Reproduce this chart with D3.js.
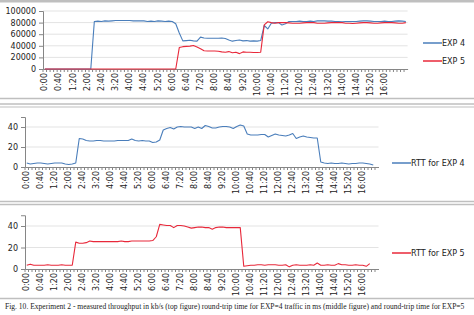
<!DOCTYPE html>
<html>
<head>
<meta charset="utf-8">
<script src="https://cdn.jsdelivr.net/npm/d3@7"></script>
<style>
  body { margin: 0; background: #fff; }
  svg { display: block; }
  .tick text { fill: #222; }
</style>
</head>
<body>
<svg id="chart" width="474" height="315"></svg>
<script>
// time of day, one sample every 10 minutes
const times = [];
for (let i = 0; i < 103; i++) {
  times.push(`${Math.floor(i / 6)}:${String((i % 6) * 10).padStart(2, '0')}`);
}
const timeLabels = ['0:00', '0:40', '1:20', '2:00', '2:40', '3:20', '4:00', '4:40', '5:20', '6:00',
  '6:40', '7:20', '8:00', '8:40', '9:20', '10:00', '10:40', '11:20', '12:00', '12:40',
  '13:20', '14:00', '14:40', '15:20', '16:00'];

// throughput in kb/s
const exp4 = [
  0, 0, 0, 0, 0, 0, 0, 0, 0, 0, 0, 0, 0, 0,
  82000, 82500, 82000, 83000, 82500, 83000, 83500, 83500, 83500, 83500, 83500, 83000,
  83000, 83000, 83000, 82000, 82500, 82000, 83000, 82500, 82000, 82500, 82000,
  78000, 62000, 48500, 49000, 49500, 48500, 48000, 55000, 53500, 53000, 53000, 53000,
  53000, 53500, 52500, 50000, 48000, 49000, 50000, 48500, 49000, 48000, 48500, 48000, 49000,
  75000, 69000, 79000, 80000, 80000, 76000, 78000, 82000, 82000, 82000,
  82500, 82000, 82000, 82500, 82000, 83000, 83000, 83000, 82500, 82500,
  82000, 82000, 81500, 82000, 82000, 82000, 82000, 82500, 83000, 83000,
  82500, 82000, 82000, 82000, 82500, 82000, 82000, 82500, 83000, 82500, 82000
];
const exp5 = [
  0, 0, 0, 0, 0, 0, 0, 0, 0, 0, 0, 0, 0, 0, 0, 0, 0, 0, 0,
  0, 0, 0, 0, 0, 0, 0, 0, 0, 0, 0, 0, 0, 0, 0, 0, 0, 0, 0,
  37000, 38500, 39000, 39500, 40500, 38000, 35000, 31500, 31000, 31000, 31000, 30500,
  29500, 29000, 30000, 28000, 29000, 26500, 29500, 29000, 29000, 28500, 28500, 29000,
  76000, 81500, 80000, 79000, 80000, 80000, 80000, 79500, 79000, 79000,
  79000, 79500, 80000, 80000, 80000, 79000, 79000, 79000, 79500, 80000,
  80000, 80000, 80000, 79000, 79000, 78500, 79000, 79500, 80000, 80000,
  79500, 79000, 79000, 79500, 80000, 80000, 80000, 79500, 79000, 79000, 80000
];

// round-trip times in ms
const rtt4 = [
  4, 3, 3.5, 4, 4, 3.5, 3, 3.5, 4, 4, 4, 3, 2.5, 3, 4,
  28.5, 28, 26.5, 26, 26, 26.5, 26.5, 26, 26, 26, 26, 26.5, 26.5, 26.5, 26.5, 28,
  26.5, 26, 26.5, 26, 26, 24.5, 25, 27,
  37, 38.5, 39.5, 38, 40, 40.5, 40, 40, 40, 38.5, 40, 38.5, 41.5, 40.5, 39, 39,
  40, 40.5, 40.5, 40, 38.5, 40.5, 42, 41,
  33, 32, 32, 32, 32.5, 32.5, 30, 31.5, 33, 32, 31.5, 31, 32, 33.5, 28.5, 30,
  31, 30, 29.5, 29, 29,
  5, 4, 3.5, 4, 3.5, 3.5, 4, 3.5, 3, 3.5, 3.5, 4, 4, 3.5, 3, 2
];
const rtt5 = [
  3.5, 4.5, 3.5, 3.5, 3.5, 3.5, 4, 3.5, 3.5, 3.5, 4, 3.5, 3.5, 3.5,
  25, 24, 24, 24.5, 26, 25.5, 25.5, 25.5, 25.5, 25.5, 25.5, 25.5, 25.5, 26, 25.5,
  25.5, 26, 26, 26, 26, 26, 26, 26.5,
  30,
  41.5, 41, 40.5, 40.5, 38.5, 40.5, 40.5, 40, 39, 38, 38.5, 39, 39, 38.5, 38.5, 37,
  38.5, 39, 39, 38.5, 38.5, 38.5, 38.5, 38.5,
  2.5, 3, 3.5, 3.5, 4, 4, 3.5, 4, 4, 4, 3.5, 3.5, 4, 2, 3.5, 4, 3.5, 3.5, 3.5,
  4, 3.5, 5.5, 3.5, 3.5, 4, 3.5, 3.5, 5, 4, 4, 3.5, 3.5, 4, 3.5, 3.5, 2.5, 5
];

const blue = '#4a7ebb';
const red = '#e8283a';
const svg = d3.select('#chart');

// panel frames from the original figure
[{ y: 1, w: 3 }, { y: 98.5, w: 1.5 }, { y: 104, w: 1.5 }, { y: 107, w: 1 },
 { y: 201.5, w: 1.5 }, { y: 204.5, w: 1.5 }, { y: 298.5, w: 1.5 }].forEach((b) => {
  svg.append('line')
    .attr('x1', 0).attr('x2', 474)
    .attr('y1', b.y).attr('y2', b.y)
    .attr('stroke', '#bfbfbf')
    .attr('stroke-width', b.w);
});

function drawPanel(p) {
  const cats = times.slice(0, p.count);
  const x = d3.scaleBand().domain(cats).range([p.left, p.right]);
  const cx = (c) => x(c) + x.bandwidth() / 2;
  const y = d3.scaleLinear().domain([0, p.max]).range([p.bottom, p.top]);
  const g = svg.append('g');

  g.selectAll('line.grid')
    .data(p.yTicks.filter((d) => d > 0))
    .join('line')
    .attr('class', 'grid')
    .attr('x1', p.left).attr('x2', p.right)
    .attr('y1', (d) => y(d)).attr('y2', (d) => y(d))
    .attr('stroke', '#e3e3e3');

  const yAxis = g.append('g')
    .attr('transform', `translate(${p.left}, 0)`)
    .call(d3.axisLeft(y).tickValues(p.yTicks).tickFormat(d3.format('d')).tickSize(4).tickPadding(3));
  yAxis.selectAll('text').attr('font-family', 'DejaVu Sans').attr('font-size', 8);

  // small tick at every category boundary
  const xTicks = g.append('g')
    .attr('transform', `translate(${-x.bandwidth() / 2}, ${p.bottom})`)
    .call(d3.axisBottom(x).tickSize(3).tickFormat(''));
  xTicks.select('.domain').remove();

  const xAxis = g.append('g')
    .attr('transform', `translate(0, ${p.bottom})`)
    .call(d3.axisBottom(x).tickValues(timeLabels).tickSize(0).tickSizeOuter(0));
  xAxis.selectAll('text')
    .attr('font-family', 'DejaVu Sans')
    .attr('font-size', 8)
    .attr('transform', 'rotate(-90)')
    .attr('text-anchor', 'end')
    .attr('x', -4)
    .attr('y', 0)
    .attr('dy', '0.32em');

  g.selectAll('.domain, .tick line').attr('stroke', '#868686');

  p.series.forEach((s) => {
    const line = d3.line()
      .x((d, i) => cx(cats[i]))
      .y((d) => y(d));
    g.append('path')
      .datum(s.values)
      .attr('fill', 'none')
      .attr('stroke', s.color)
      .attr('stroke-width', 1.1)
      .attr('stroke-linejoin', 'round')
      .attr('d', line);
  });

  const legend = g.append('g');
  p.series.forEach((s, i) => {
    const ly = p.legendY + i * p.legendGap;
    legend.append('line')
      .attr('x1', p.legendX).attr('x2', p.legendX + 19)
      .attr('y1', ly).attr('y2', ly)
      .attr('stroke', s.color)
      .attr('stroke-width', 1.5);
    legend.append('text')
      .attr('x', p.legendX + 19)
      .attr('y', ly)
      .attr('dy', '0.35em')
      .attr('font-family', 'DejaVu Sans')
      .attr('font-size', 8)
      .attr('fill', '#222')
      .text(s.name);
  });
}

drawPanel({
  count: 103, left: 43, right: 407.6, top: 11, bottom: 69, max: 100000,
  yTicks: [0, 20000, 40000, 60000, 80000, 100000],
  legendX: 423, legendY: 43, legendGap: 18,
  series: [
    { name: 'EXP 4', values: exp4, color: blue },
    { name: 'EXP 5', values: exp5, color: red }
  ]
});

drawPanel({
  count: 101, left: 25, right: 378.5, top: 117, bottom: 167, max: 50,
  yTicks: [0, 20, 40],
  legendX: 392, legendY: 163, legendGap: 0,
  series: [{ name: 'RTT for EXP 4', values: rtt4, color: blue }]
});

drawPanel({
  count: 101, left: 25, right: 378.5, top: 215.25, bottom: 269, max: 50,
  yTicks: [0, 20, 40],
  legendX: 392, legendY: 253, legendGap: 0,
  series: [{ name: 'RTT for EXP 5', values: rtt5, color: red }]
});

// caption squeezed horizontally so it fits the page width
const caption = svg.append('text')
  .attr('x', 0)
  .attr('y', 0)
  .attr('font-family', 'Liberation Serif')
  .attr('font-size', 8.5)
  .attr('fill', '#222')
  .text('Fig. 10. Experiment 2 - measured throughput in kb/s (top figure) round-trip time for EXP=4 traffic in ms (middle figure) and round-trip time for EXP=5');
const natural = caption.node().getComputedTextLength();
caption.attr('transform', `translate(5, 309) scale(${460 / natural}, 1)`);
</script>
</body>
</html>
